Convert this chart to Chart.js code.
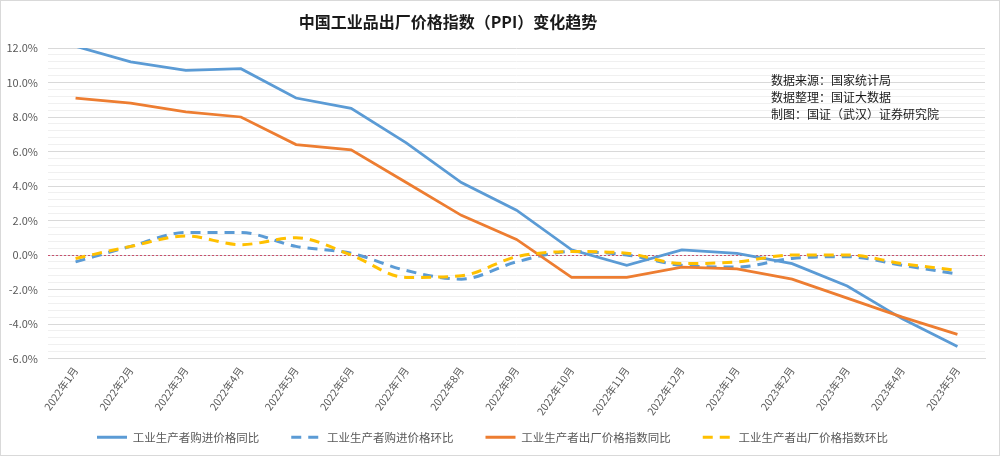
<!DOCTYPE html>
<html>
<head>
<meta charset="utf-8">
<script src="https://cdn.jsdelivr.net/npm/chart.js@4.4.1/dist/chart.umd.min.js"></script>
<style>
  html, body { margin: 0; padding: 0; background: #fff; }
  #wrap { width: 1000px; height: 456px; position: relative; }
</style>
</head>
<body>
<div id="wrap"><canvas id="graph"></canvas></div>
<script>
// 月份
const months = [
  "2022年1月", "2022年2月", "2022年3月", "2022年4月", "2022年5月", "2022年6月",
  "2022年7月", "2022年8月", "2022年9月", "2022年10月", "2022年11月", "2022年12月",
  "2023年1月", "2023年2月", "2023年3月", "2023年4月", "2023年5月",
];

// 工业生产者购进价格 同比 / 环比 (%)
const purchaseYoY = [12.1, 11.2, 10.7, 10.8, 9.1, 8.5, 6.5, 4.2, 2.6, 0.3, -0.6, 0.3, 0.1, -0.5, -1.8, -3.7, -5.3];
const purchaseMoM = [-0.4, 0.5, 1.3, 1.3, 0.5, 0.1, -0.9, -1.4, -0.4, 0.2, 0.0, -0.6, -0.7, -0.2, -0.1, -0.6, -1.1];

// 工业生产者出厂价格指数 同比 / 环比 (%)
const ppiYoY = [9.1, 8.8, 8.3, 8.0, 6.4, 6.1, 4.2, 2.3, 0.9, -1.3, -1.3, -0.7, -0.8, -1.4, -2.5, -3.6, -4.6];
const ppiMoM = [-0.2, 0.5, 1.1, 0.6, 1.0, 0.0, -1.3, -1.2, -0.1, 0.2, 0.1, -0.5, -0.4, 0.0, 0.0, -0.5, -0.9];

const seriesNames = [
  "工业生产者购进价格同比",
  "工业生产者购进价格环比",
  "工业生产者出厂价格指数同比",
  "工业生产者出厂价格指数环比",
];

const chartTitle = "中国工业品出厂价格指数（PPI）变化趋势";
const noteLines = ["数据来源：国家统计局", "数据整理：国证大数据", "制图：国证（武汉）证券研究院"];

const FONT = "'Noto Sans CJK SC', 'Noto Sans', sans-serif";
const blue = "#5b9bd5";
const orange = "#ed7d31";
const yellow = "#ffc000";

// 标题・注释・零线・外框
const decorPlugin = {
  id: "decor",
  beforeDraw(chart) {
    const { ctx } = chart;
    ctx.save();
    ctx.fillStyle = "#fff";
    ctx.fillRect(0, 0, chart.width, chart.height);
    ctx.strokeStyle = "#d9d9d9";
    ctx.lineWidth = 1;
    ctx.strokeRect(0.5, 0.5, chart.width - 1, chart.height - 1);
    ctx.restore();
  },
  beforeDatasetsDraw(chart) {
    const { ctx, chartArea } = chart;
    const y = Math.round(chart.scales.y.getPixelForValue(0)) + 0.5;
    ctx.save();
    ctx.strokeStyle = "#c8506e";
    ctx.lineWidth = 1;
    ctx.setLineDash([2, 2]);
    ctx.beginPath();
    ctx.moveTo(chartArea.left, y);
    ctx.lineTo(chartArea.right, y);
    ctx.stroke();
    ctx.restore();
  },
  afterDraw(chart) {
    const { ctx } = chart;
    ctx.save();
    ctx.fillStyle = "#1a1a1a";
    ctx.font = `bold 16px ${FONT}`;
    ctx.textAlign = "center";
    ctx.textBaseline = "middle";
    ctx.fillText(chartTitle, 448, 22);

    ctx.font = `12px ${FONT}`;
    ctx.textAlign = "left";
    noteLines.forEach((line, i) => ctx.fillText(line, 771, 80 + i * 17));
    ctx.restore();
  },
};

const isMajor = (v) => Math.abs(v / 2 - Math.round(v / 2)) < 1e-6;

new Chart(document.getElementById("graph"), {
  type: "line",
  data: {
    labels: months,
    datasets: [
      {
        label: seriesNames[0],
        data: purchaseYoY,
        borderColor: blue,
        backgroundColor: blue,
        borderWidth: 2.75,
        tension: 0,
        order: 3,
      },
      {
        label: seriesNames[1],
        data: purchaseMoM,
        borderColor: blue,
        backgroundColor: blue,
        borderWidth: 3,
        borderDash: [10, 7],
        cubicInterpolationMode: "monotone",
        order: 2,
      },
      {
        label: seriesNames[2],
        data: ppiYoY,
        borderColor: orange,
        backgroundColor: orange,
        borderWidth: 2.75,
        tension: 0,
        order: 1,
      },
      {
        label: seriesNames[3],
        data: ppiMoM,
        borderColor: yellow,
        backgroundColor: yellow,
        borderWidth: 3,
        borderDash: [10, 7],
        cubicInterpolationMode: "monotone",
        order: 0,
      },
    ],
  },
  options: {
    responsive: true,
    maintainAspectRatio: false,
    animation: false,
    layout: { padding: { top: 48, right: 15, left: 0, bottom: 3 } },
    elements: { point: { radius: 0, hoverRadius: 0 } },
    scales: {
      x: {
        offset: true,
        grid: { display: false, drawTicks: false },
        border: { color: "#d9d9d9" },
        ticks: {
          color: "#595959",
          font: { family: FONT, size: 10.5 },
          minRotation: 55,
          maxRotation: 55,
          autoSkip: false,
          padding: 6,
        },
        afterFit(scale) {
          // 标签延伸到图例区域，不裁剪
          scale.height = 41;
          scale._computeLabelArea = () => undefined;
        },
      },
      y: {
        min: -6,
        max: 12,
        border: { display: false },
        grid: {
          drawTicks: false,
          color: (c) => (isMajor(c.tick.value) ? "#d9d9d9" : "#f0f0f0"),
        },
        ticks: {
          stepSize: 0.4,
          autoSkip: false,
          color: "#595959",
          font: { family: FONT, size: 11 },
          padding: 10,
          callback: (v) => (isMajor(v) ? v.toFixed(1) + "%" : ""),
        },
        afterFit(scale) {
          scale.width = 48;
        },
      },
    },
    plugins: {
      legend: {
        position: "bottom",
        labels: {
          usePointStyle: true,
          pointStyle: "line",
          pointStyleWidth: 30,
          padding: 32,
          color: "#595959",
          font: { family: FONT, size: 11.5 },
          sort: (a, b) => a.datasetIndex - b.datasetIndex,
          generateLabels(chart) {
            const items = Chart.defaults.plugins.legend.labels.generateLabels(chart);
            return items.map((item) => {
              const ds = chart.data.datasets[item.datasetIndex];
              item.lineDash = ds.borderDash || [];
              item.lineWidth = 3;
              item.strokeStyle = ds.borderColor;
              return item;
            });
          },
        },
      },
      tooltip: { enabled: false },
    },
  },
  plugins: [decorPlugin],
});
</script>
</body>
</html>
